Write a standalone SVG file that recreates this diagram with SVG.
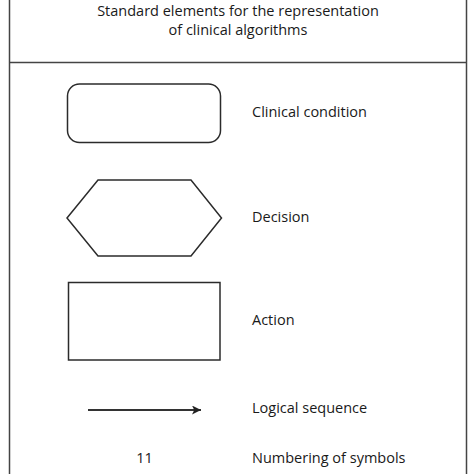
<svg xmlns="http://www.w3.org/2000/svg" width="474" height="474" viewBox="0 0 474 474">
<defs>
<marker id="ah" viewBox="0 0 10 10" refX="10" refY="5" markerWidth="12" markerHeight="9" markerUnits="userSpaceOnUse" orient="auto"><path d="M0,0 L10,5 L0,10 L2.5,5 z" fill="#222"/></marker>
</defs>
<style>
.t{font-family:"Open Sans","Noto Sans",sans-serif;font-size:14.5px;fill:#1a1a1a}
.s{fill:#fff;stroke:#2b2b2b;stroke-width:1.5}
.b{stroke:#444;stroke-width:1.5;fill:none}
</style>
<rect width="474" height="474" fill="#fff"/>
<g id="frame">
<line class="b" x1="9.5" y1="0" x2="9.5" y2="474"/>
<line class="b" x1="466.5" y1="0" x2="466.5" y2="474"/>
<line class="b" x1="9.5" y1="62.5" x2="466.5" y2="62.5"/>
</g>
<g id="title">
<text class="t" x="238" y="16" text-anchor="middle">Standard elements for the representation</text>
<text class="t" x="238" y="35" text-anchor="middle">of clinical algorithms</text>
</g>
<g id="condition">
<rect class="s" x="67.5" y="84" width="153" height="58.5" rx="12"/>
<text class="t" x="252" y="117">Clinical condition</text>
</g>
<g id="decision">
<polygon class="s" points="67,218 98,180 191,180 221.5,218 191,256 98,256"/>
<text class="t" x="252" y="222">Decision</text>
</g>
<g id="action">
<rect class="s" x="68.5" y="282.5" width="151.5" height="77.5"/>
<text class="t" x="252" y="325">Action</text>
</g>
<g id="connectors">
<line x1="88" y1="410" x2="201" y2="410" stroke="#333" stroke-width="1.8" marker-end="url(#ah)"/>
</g>
<g id="sequence-label">
<text class="t" x="252" y="413">Logical sequence</text>
</g>
<g id="numbering">
<text class="t" x="144.5" y="463" text-anchor="middle">11</text>
<text class="t" x="252" y="463">Numbering of symbols</text>
</g>
</svg>
